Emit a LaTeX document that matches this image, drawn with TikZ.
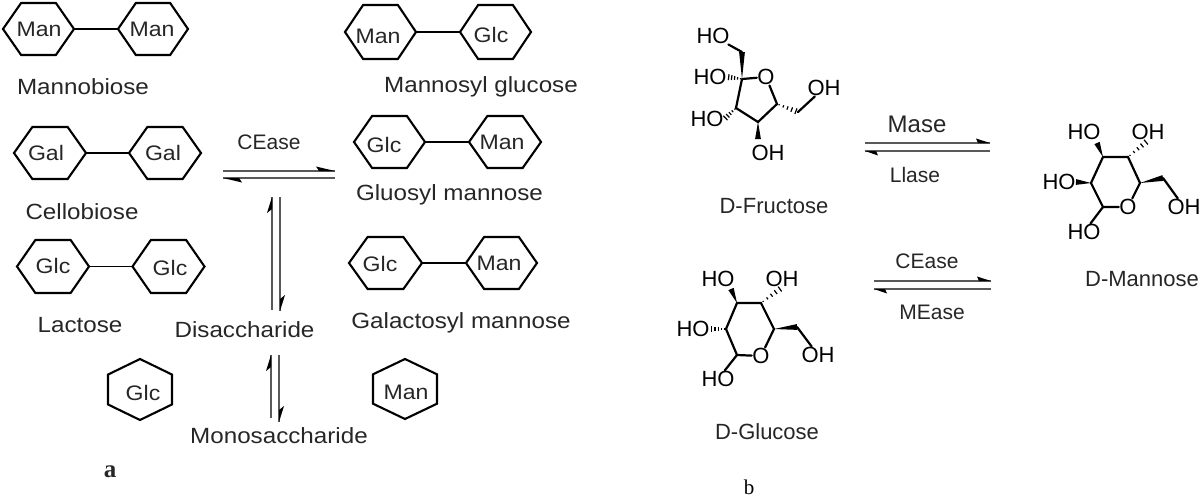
\documentclass[tikz,border=0pt]{standalone}
\usepackage{fontspec}
\setmainfont{Liberation Sans}
\newfontfamily\serifed{Liberation Serif}
\newfontfamily\widesans[FakeStretch=1.1]{Liberation Sans}
\usetikzlibrary{calc}
\tikzset{
  hexline/.style={draw=black,line width=2.1pt,line join=miter},
  hexbox/.style={rectangle,draw=none,inner sep=0pt,outer sep=0pt},
  hextext/.style={font=\widesans\fontsize{21}{21}\selectfont,text=black!85,inner sep=0pt},
  link/.style={draw=black,line width=1.8pt},
  lbl/.style={font=\widesans\fontsize{22}{22}\selectfont,text=black!85,inner sep=0pt},
  enz/.style={font=\fontsize{21}{21}\selectfont,text=black!85,inner sep=0pt},
  enzbig/.style={font=\fontsize{24}{24}\selectfont,text=black!85,inner sep=0pt},
  nam/.style={font=\fontsize{22}{22}\selectfont,text=black!85,inner sep=0pt},
  atom/.style={font=\fontsize{22}{22}\selectfont,inner sep=0.5pt},
  bond/.style={draw=black,line width=2.2pt,line cap=round},
  rail/.style={draw=black!65,line width=1.7pt},
}
% name, cx, cy, half width, half height, text x, text y, text
\newcommand{\hexh}[8]{%
  \node[hexbox,minimum width=#4*2pt,minimum height=#5*2pt] (#1) at (#2,#3) {};
  \pgfmathsetmacro{\tw}{#4*0.49}
  \draw[hexline,shift={(#2,#3)}] (-#4,0) -- (-\tw,-#5) -- (\tw,-#5) -- (#4,0) -- (\tw,#5) -- (-\tw,#5) -- cycle;
  \node[hextext] (#1t) at (#6,#7) {#8};}
\newcommand{\hexv}[8]{%
  \node[hexbox,minimum width=#4*2pt,minimum height=#5*2pt] (#1) at (#2,#3) {};
  \pgfmathsetmacro{\tw}{#5*0.49}
  \draw[hexline,shift={(#2,#3)}] (0,-#5) -- (#4,-\tw) -- (#4,\tw) -- (0,#5) -- (-#4,\tw) -- (-#4,-\tw) -- cycle;
  \node[hextext] (#1t) at (#6,#7) {#8};}
\newcommand{\wedgebond}[2]{%
  \fill[black] ($(#1)!2.9pt!90:(#2)$) -- ($(#1)!2.9pt!-90:(#2)$) -- (#2) -- cycle;}
\newcommand{\hashbond}[2]{%
  \foreach \t/\w in {0.1/0.6,0.3/1.2,0.5/1.8,0.7/2.4,0.9/3.0}{%
    \draw[black,line width=1.2pt] ($($(#1)!\t!(#2)$)!\w pt!90:(#2)$) -- ($($(#1)!\t!(#2)$)!\w pt!-90:(#2)$);}}
\begin{document}
\begin{tikzpicture}[x=1pt,y=-1pt]
\useasboundingbox (0,0) rectangle (1200,498);
% panel a hexagons
\hexh{m1}{38.5}{29}{35.5}{26}{39}{29}{Man}
\hexh{m2}{153}{29}{35}{26}{152}{29}{Man}
\draw[link] (m1.east) -- (m2.west);
\hexh{m3}{380.5}{32}{35.5}{27}{378}{36}{Man}
\hexh{g1}{495.5}{32}{35.5}{27}{491}{35}{Glc}
\draw[link] (m3.east) -- (g1.west);
\hexh{ga1}{50}{153}{36}{26}{46}{153}{Gal}
\hexh{ga2}{165}{153}{36}{26}{163}{153}{Gal}
\draw[link] (ga1.east) -- (ga2.west);
\hexh{g2}{389.5}{142}{35.5}{26}{384}{145}{Glc}
\hexh{m4}{505}{142}{36}{26}{502}{142}{Man}
\draw[link] (g2.east) -- (m4.west);
\hexh{g3}{53}{266.5}{36}{26.5}{53}{266}{Glc}
\hexh{g4}{168.5}{266.5}{36}{26.5}{170}{268}{Glc}
\draw[link] (g3.east) -- (g4.west);
\hexh{g5}{385.5}{263}{36.5}{26}{380}{264}{Glc}
\hexh{m5}{501.5}{263}{35.5}{26}{499}{263}{Man}
\draw[link] (g5.east) -- (m5.west);
\hexv{g6}{140}{389.5}{32}{30.5}{143}{393}{Glc}
\hexv{m6}{405}{389}{32}{30}{406}{392}{Man}
% panel a labels
\node[lbl] (t1) at (83,87) {Mannobiose};
\node[lbl] (t2) at (481,87) {Mannosyl glucose};
\node[lbl] (t3) at (82,212) {Cellobiose};
\node[lbl] (t4) at (449.5,195) {Gluosyl mannose};
\node[lbl] (t5) at (80,325) {Lactose};
\node[lbl] (t6) at (244.5,330) {Disaccharide};
\node[lbl] (t7) at (461,323) {Galactosyl mannose};
\node[lbl] (t8) at (279,436) {Monosaccharide};
\node[enz] (t9) at (269,142) {CEase};
\node[font=\serifed\bfseries\fontsize{25}{25}\selectfont,inner sep=0pt,text=black!85] (ta) at (110,472) {a};
\node[font=\serifed\fontsize{21}{21}\selectfont,inner sep=0pt] (tb) at (749,487) {b};
% panel a arrows
\coordinate (h1a) at (223,171); \coordinate (h1b) at (335,171);
\coordinate (h2a) at (335,178); \coordinate (h2b) at (223,178);
\draw[rail] (h1a) -- (h1b); \fill (h1b) -- ++(-19,-4.5) -- ++(3,4.5) -- cycle;
\draw[rail] (h2a) -- (h2b); \fill (h2b) -- ++(19,4.5) -- ++(-3,-4.5) -- cycle;
\coordinate (v1a) at (272,310); \coordinate (v1b) at (272,197);
\coordinate (v2a) at (280,197); \coordinate (v2b) at (280,311);
\draw[rail] (v1a) -- (v1b); \fill (v1b) -- ++(-5,16) -- ++(5,-4) -- cycle;
\draw[rail] (v2a) -- (v2b); \fill (v2b) -- ++(5,-16) -- ++(-5,4) -- cycle;
\coordinate (v3a) at (271,418); \coordinate (v3b) at (271,355);
\coordinate (v4a) at (279,355); \coordinate (v4b) at (279,422);
\draw[rail] (v3a) -- (v3b); \fill (v3b) -- ++(-5,16) -- ++(5,-4) -- cycle;
\draw[rail] (v4a) -- (v4b); \fill (v4b) -- ++(5,-16) -- ++(-5,4) -- cycle;
% panel b arrows
\coordinate (r1a) at (865,143); \coordinate (r1b) at (990,143);
\coordinate (r2a) at (990,151); \coordinate (r2b) at (865,151);
\draw[rail] (r1a) -- (r1b); \fill (r1b) -- ++(-14,-4.5) -- ++(2,4.5) -- cycle;
\draw[rail] (r2a) -- (r2b); \fill (r2b) -- ++(13,4.5) -- ++(-2,-4.5) -- cycle;
\coordinate (r3a) at (874,281); \coordinate (r3b) at (991,281);
\coordinate (r4a) at (991,289); \coordinate (r4b) at (874,289);
\draw[rail] (r3a) -- (r3b); \fill (r3b) -- ++(-14,-4.5) -- ++(2,4.5) -- cycle;
\draw[rail] (r4a) -- (r4b); \fill (r4b) -- ++(13,4.5) -- ++(-2,-4.5) -- cycle;
\node[enzbig] (e1) at (917,124) {Mase};
\node[enz] (e2) at (915,175) {Llase};
\node[enz] (e3) at (927,261) {CEase};
\node[enz] (e4) at (932,312) {MEase};
\node[nam] (n1) at (774,206) {D-Fructose};
\node[nam] (n2) at (767,432) {D-Glucose};
\node[nam] (n3) at (1142,279) {D-Mannose};
% fructose
\node[atom] (fO) at (766,77) {O};
\node[atom] (fh1) at (713,36) {HO};
\node[atom] (fh2) at (710,77) {HO};
\node[atom] (fh3) at (707,119) {HO};
\node[atom] (fh4) at (768,153) {OH};
\node[atom] (fh5) at (824,88) {OH};
\coordinate (fa) at (742,79); \coordinate (fb) at (736,108);
\coordinate (fc) at (758,122); \coordinate (fd) at (777,104);
\coordinate (fe) at (742,52); \coordinate (ff) at (798,112);
\coordinate (fw) at (758,139);
\draw[bond] (fa) -- (fO) (fO) -- (fd) -- (fc) -- (fb) -- (fa);
\wedgebond{fe}{fa}
\draw[bond] (fe) -- (fh1);
\hashbond{fa}{fh2.east}
\hashbond{fb}{fh3.east}
\wedgebond{fw}{fc}
\hashbond{fd}{ff}
\draw[bond] (ff) -- (fh5);
% mannose
\node[atom] (mO) at (1128,207) {O};
\node[atom] (mh1) at (1084,132) {HO};
\node[atom] (mh2) at (1148,132) {OH};
\node[atom] (mh3) at (1059,182) {HO};
\node[atom] (mh4) at (1084,232) {HO};
\node[atom] (mh5) at (1184,207) {OH};
\coordinate (ma) at (1103,157); \coordinate (mb) at (1128,157);
\coordinate (mc) at (1140,183); \coordinate (md) at (1091,183);
\coordinate (me) at (1103,207); \coordinate (mf) at (1163,178);
\coordinate (mw1) at (1097,143); \coordinate (mw2) at (1076,182);
\draw[bond] (mO) -- (mc) -- (mb) -- (ma) -- (md) -- (me) -- (mO);
\wedgebond{mw1}{ma}
\hashbond{mb}{mh2.south}
\wedgebond{mw2}{md}
\draw[bond] (me) -- (mh4);
\wedgebond{mf}{mc}
\draw[bond] (mf) -- (mh5);
% glucose
\node[atom] (gO) at (761,356) {O};
\node[atom] (gh1) at (718,279) {HO};
\node[atom] (gh2) at (782,279) {OH};
\node[atom] (gh3) at (693,329) {HO};
\node[atom] (gh4) at (718,379) {HO};
\node[atom] (gh5) at (818,355) {OH};
\coordinate (ga) at (737,303); \coordinate (gb) at (761,303);
\coordinate (gc) at (774,329); \coordinate (gd) at (726,329);
\coordinate (ge) at (737,355); \coordinate (gf) at (797,327);
\coordinate (gw) at (731,289);
\draw[bond] (gO) -- (gc) -- (gb) -- (ga) -- (gd) -- (ge) -- (gO);
\wedgebond{gw}{ga}
\hashbond{gb}{gh2.south}
\hashbond{gd}{gh3.east}
\draw[bond] (ge) -- (gh4);
\wedgebond{gf}{gc}
\draw[bond] (gf) -- (gh5);
\end{tikzpicture}
\end{document}
